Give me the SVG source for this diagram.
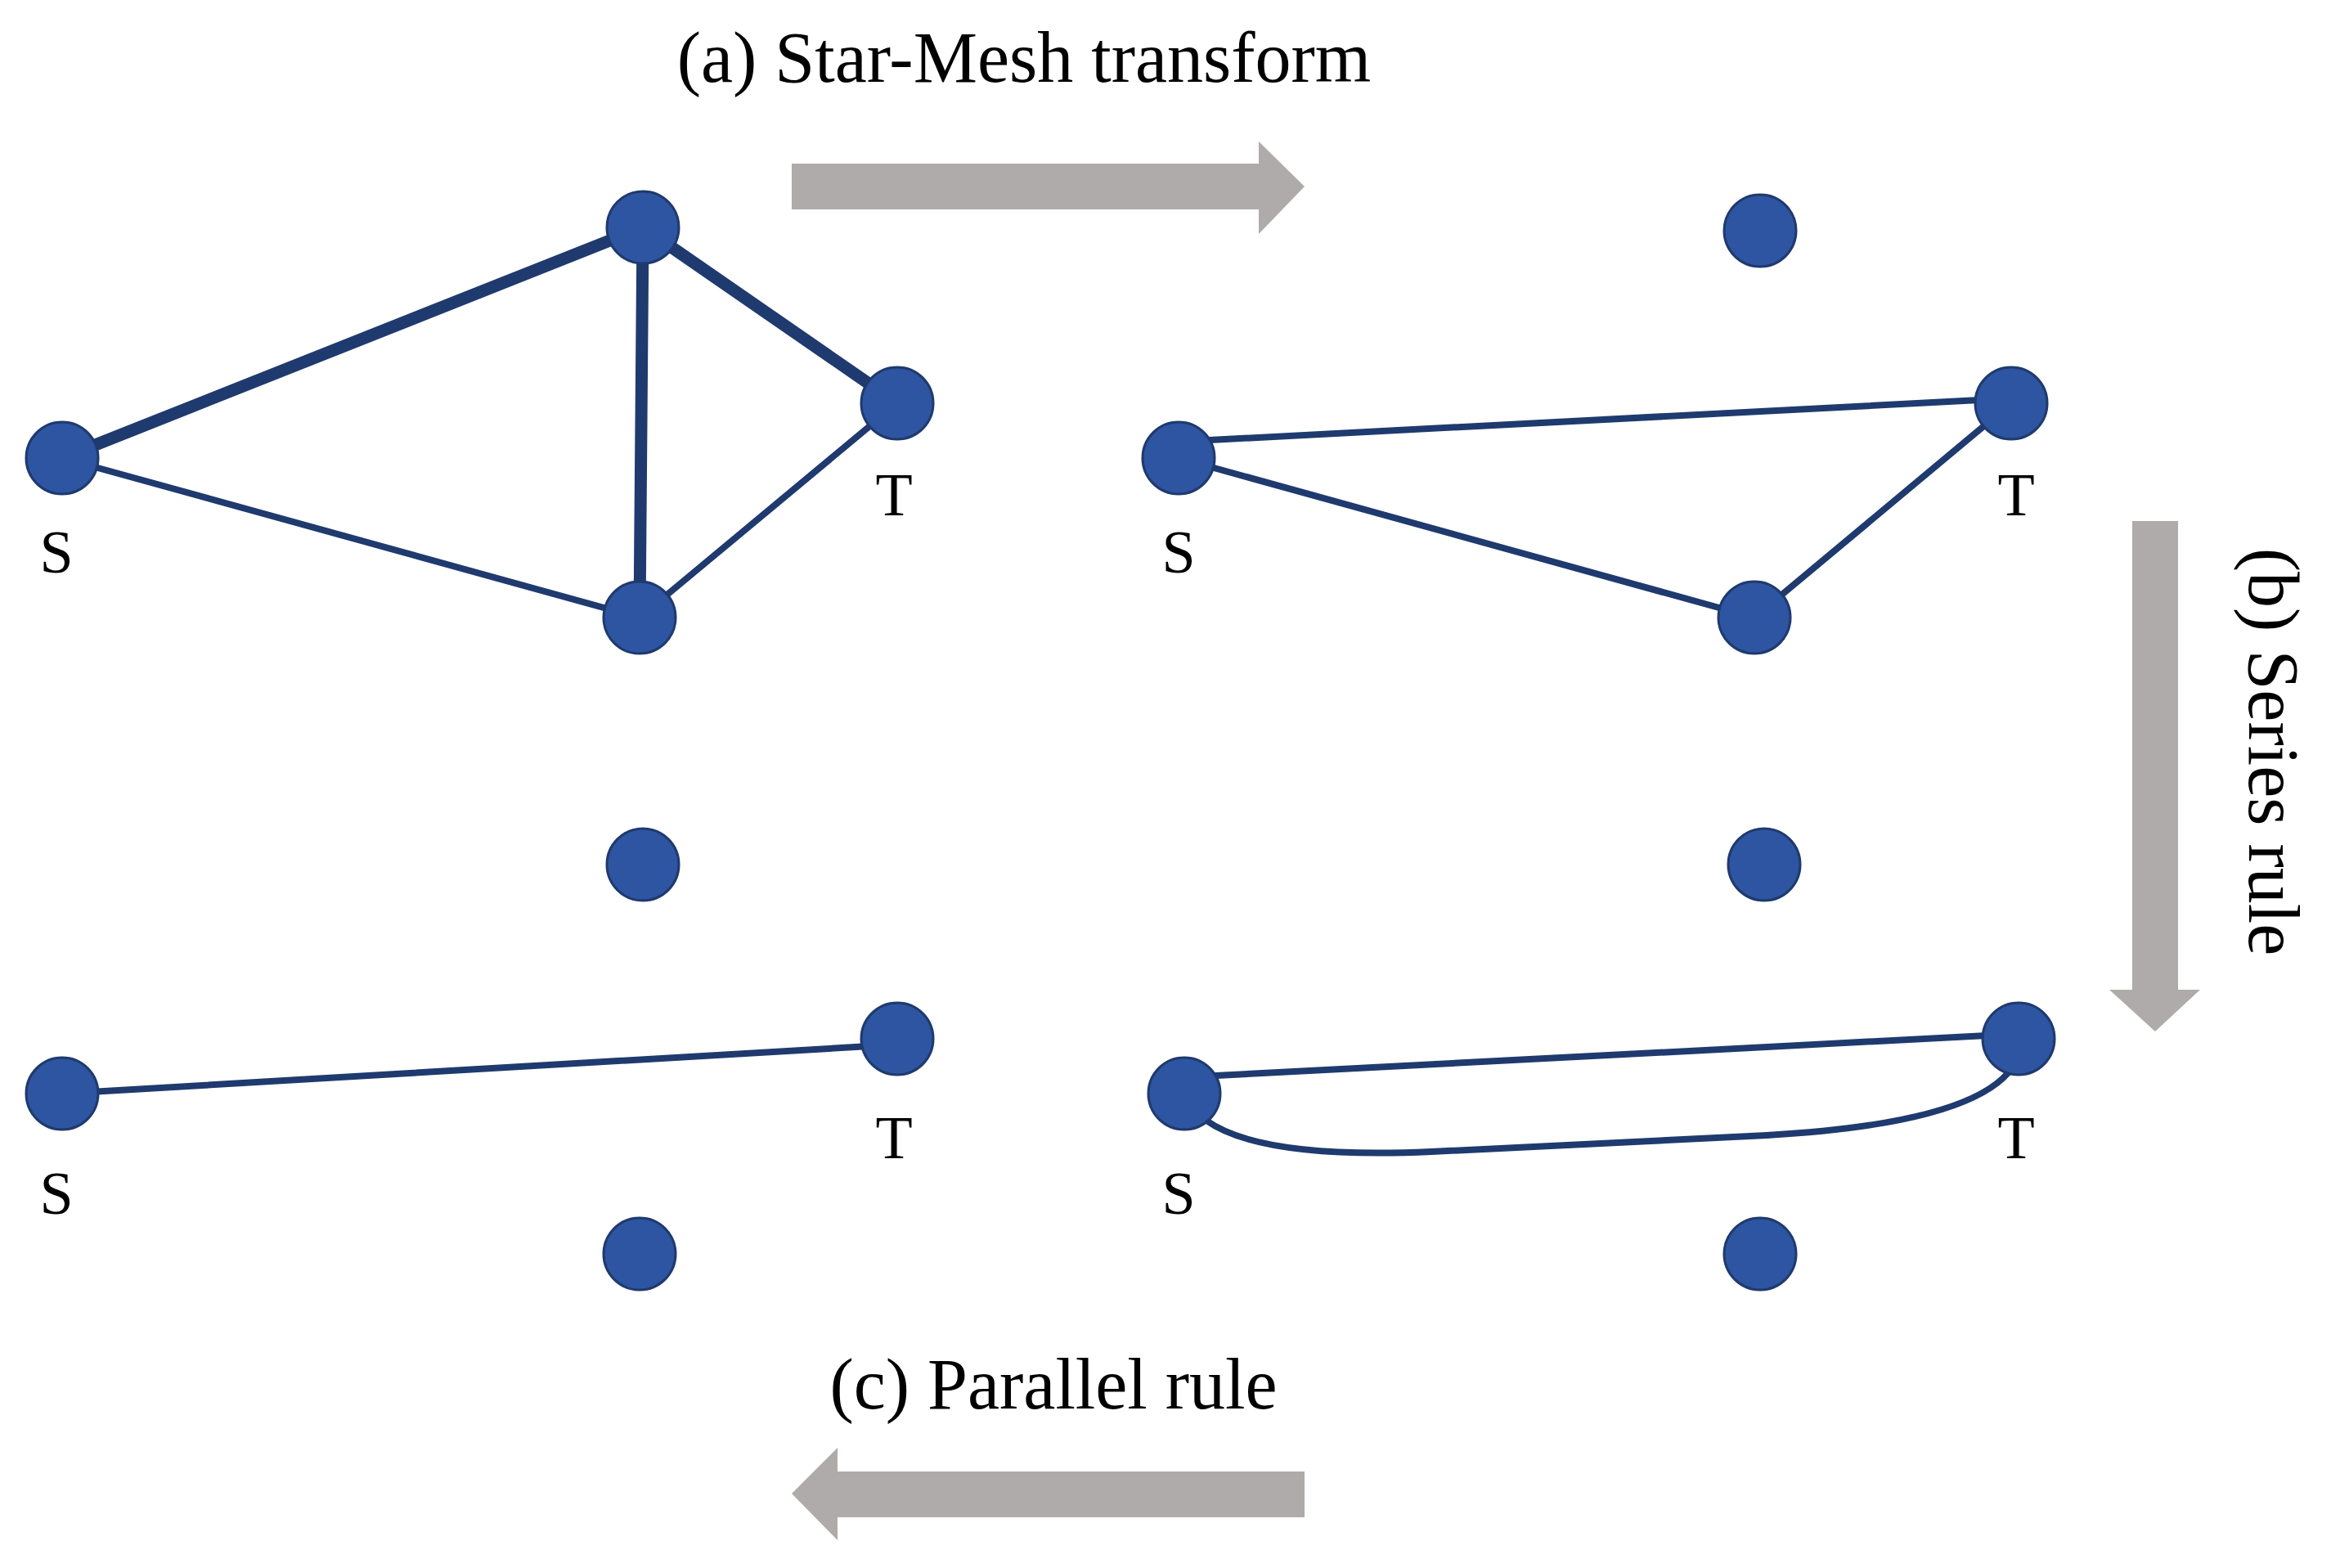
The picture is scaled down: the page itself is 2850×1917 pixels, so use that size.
<svg xmlns="http://www.w3.org/2000/svg" width="2850" height="1917" viewBox="0 0 2850 1917">
<style>
.n{fill:#2e55a1;stroke:#1f3a6e;stroke-width:3}
.e{stroke:#1f3a6e;stroke-width:8;fill:none;stroke-linecap:round}
.k{stroke:#1f3a6e;stroke-width:15;fill:none;stroke-linecap:round}
.t{font-family:"Liberation Serif",serif;font-size:74px;fill:#000;text-anchor:middle}
.h{font-family:"Liberation Serif",serif;font-size:88px;fill:#000;text-anchor:middle}
.a{fill:#afabaa}
</style>
<rect width="2850" height="1917" fill="#fff"/>
<g id="connectors">
<line class="k" x1="76" y1="560" x2="786" y2="278"/>
<line class="k" x1="786" y1="278" x2="782" y2="755"/>
<line class="k" x1="786" y1="278" x2="1097" y2="493"/>
<line class="e" x1="76" y1="560" x2="782" y2="755"/>
<line class="e" x1="782" y1="755" x2="1097" y2="493"/>
<line class="e" x1="1441" y1="540" x2="2459" y2="487"/>
<line class="e" x1="1441" y1="560" x2="2145" y2="755"/>
<line class="e" x1="2145" y1="755" x2="2459" y2="493"/>
<line class="e" x1="76" y1="1337" x2="1097" y2="1277"/>
<line class="e" x1="1448" y1="1317" x2="2468" y2="1264"/>
<path class="e" d="M1448,1337 Q1480,1420 1750,1408 L2160,1388 Q2440,1372 2468,1290"/>
</g>
<g id="n1"><circle class="n" cx="786" cy="278" r="44"/><circle class="n" cx="76" cy="560" r="44"/><circle class="n" cx="1097" cy="493" r="44"/><circle class="n" cx="782" cy="755" r="44"/></g>
<g id="n2"><circle class="n" cx="2152" cy="282" r="44"/><circle class="n" cx="1441" cy="560" r="44"/><circle class="n" cx="2459" cy="493" r="44"/><circle class="n" cx="2145" cy="755" r="44"/></g>
<g id="n3"><circle class="n" cx="786" cy="1057" r="44"/><circle class="n" cx="76" cy="1337" r="44"/><circle class="n" cx="1097" cy="1270" r="44"/><circle class="n" cx="782" cy="1533" r="44"/></g>
<g id="n4"><circle class="n" cx="2157" cy="1057" r="44"/><circle class="n" cx="1448" cy="1337" r="44"/><circle class="n" cx="2468" cy="1270" r="44"/><circle class="n" cx="2152" cy="1533" r="44"/></g>
<g id="labels">
<text class="t" x="69" y="700">S</text><text class="t" x="1093" y="630">T</text>
<text class="t" x="1441" y="700">S</text><text class="t" x="2465" y="630">T</text>
<text class="t" x="69" y="1484">S</text><text class="t" x="1093" y="1416">T</text>
<text class="t" x="1441" y="1484">S</text><text class="t" x="2465" y="1416">T</text>
<text class="h" x="1252" y="100">(a) Star-Mesh transform</text>
<text class="h" x="1288" y="1722">(c) Parallel rule</text>
<text class="h" transform="translate(2750,919) rotate(90)">(b) Series rule</text>
</g>
<g id="arrows">
<polygon class="a" points="968,200 1539,200 1539,173 1595,228 1539,286 1539,256 968,256"/>
<polygon class="a" points="2607,637 2663,637 2663,1210 2690,1210 2635,1261 2579,1210 2607,1210"/>
<polygon class="a" points="1595,1799 1024,1799 1024,1770 968,1826 1024,1883 1024,1855 1595,1855"/>
</g>
</svg>
